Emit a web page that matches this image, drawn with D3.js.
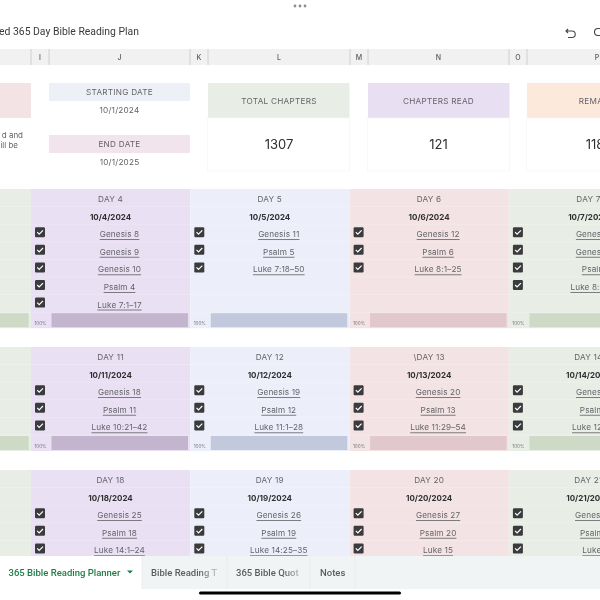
<!DOCTYPE html>
<html>
<head>
<meta charset="utf-8">
<script src="https://cdn.jsdelivr.net/npm/d3@7"></script>
<style>
html, body { margin: 0; padding: 0; background: #fff; }
svg { display: block; filter: blur(0.3px); }
text { font-family: Inter, "Open Sans", sans-serif; }
</style>
</head>
<body>
<svg id="sheet" width="600" height="600"></svg>
<script>
// values
const columnLetters = ["I", "J", "K", "L", "M", "N", "O", "P"];
const dayLabels = [
  ["DAY 4", "DAY 5", "DAY 6", "DAY 7"],
  ["DAY 11", "DAY 12", "\\DAY 13", "DAY 14"],
  ["DAY 18", "DAY 19", "DAY 20", "DAY 21"]
];
const dayDates = [
  ["10/4/2024", "10/5/2024", "10/6/2024", "10/7/2024"],
  ["10/11/2024", "10/12/2024", "10/13/2024", "10/14/2024"],
  ["10/18/2024", "10/19/2024", "10/20/2024", "10/21/2024"]
];
const readings = [
  [
    ["Genesis 8", "Genesis 9", "Genesis 10", "Psalm 4", "Luke 7:1–17"],
    ["Genesis 11", "Psalm 5", "Luke 7:18–50"],
    ["Genesis 12", "Psalm 6", "Luke 8:1–25"],
    ["Genesis 13", "Genesis 14", "Psalm 7", "Luke 8:26–56"]
  ],
  [
    ["Genesis 18", "Psalm 11", "Luke 10:21–42"],
    ["Genesis 19", "Psalm 12", "Luke 11:1–28"],
    ["Genesis 20", "Psalm 13", "Luke 11:29–54"],
    ["Genesis 21", "Psalm 14", "Luke 12:1–34"]
  ],
  [
    ["Genesis 25", "Psalm 18", "Luke 14:1–24"],
    ["Genesis 26", "Psalm 19", "Luke 14:25–35"],
    ["Genesis 27", "Psalm 20", "Luke 15"],
    ["Genesis 28", "Psalm 21", "Luke 16"]
  ]
];
const progress = ["100%", "100%", "100%", "100%"];
const summaryLabels = ["TOTAL CHAPTERS", "CHAPTERS READ", "REMAINING"];
const summaryValues = ["1307", "121", "1186"];
const startLabel = "STARTING DATE", startDate = "10/1/2024";
const endLabel = "END DATE", endDate = "10/1/2025";
const tabNames = ["365 Bible Reading Planner", "Bible Reading T", "365 Bible Quot", "Notes"];

const svg = d3.select("#sheet");
const ink = "#646468", dark = "#2e2e30";

// card colours, the first one is the card cut off on the left
const cardFill = ["#e8eee6", "#e9e0f3", "#ecEEFA", "#f3e3e5", "#e8eee6"];
const barFill = ["#cfdac6", "#c3b5cd", "#c3c9dc", "#e0c8cd", "#cfdac6"];

// columns repeat every 159.3px
const xDay = d3.scaleLinear().domain([0, 1]).range([31, 190.3]);
const yTop = d3.scaleOrdinal().domain([0, 1, 2]).range([189, 347, 470]);
const rowH = 17.6, barH = 15, boxW = 18;

function label(g, x, y, str, size, fill, weight, anchor) {
  return g.append("text").attr("x", x).attr("y", y)
    .attr("text-anchor", anchor || "middle")
    .attr("dominant-baseline", "central")
    .attr("font-size", size).attr("fill", fill)
    .attr("font-weight", weight || 400).text(str);
}

// title bar
label(svg, -1, 31.5, "ed 365 Day Bible Reading Plan", 10.4, "#3a3a3c", 400, "start").style("font-family", "Roboto");
svg.selectAll(".dot").data([-5, 0, 5]).enter().append("circle")
  .attr("cx", d => 300 + d).attr("cy", 6).attr("r", 1.4).attr("fill", "#8c8c8c");
svg.append("path").attr("d", "M568 29 l-2 2 l2 2 M566 31 h6 a3.2 3.2 0 0 1 0 6.5 h-4")
  .attr("fill", "none").attr("stroke", "#444").attr("stroke-width", 1.1);
svg.append("path").attr("d", "M600 28.5 h-2 a3.5 3.5 0 0 0 0 7 h2")
  .attr("fill", "none").attr("stroke", "#444").attr("stroke-width", 1.1);

// column header row
const colEdges = [0, 31, 49, 190, 208, 350, 368, 509, 527, 700];
svg.append("rect").attr("x", 0).attr("y", 49).attr("width", 600).attr("height", 16).attr("fill", "#f1f1f1");
svg.selectAll(".edge").data(colEdges.slice(1, -1)).enter().append("line")
  .attr("x1", d => d).attr("x2", d => d).attr("y1", 49).attr("y2", 65)
  .attr("stroke", "#c9c9c9").attr("stroke-width", 0.8);
columnLetters.forEach((c, i) => {
  const mid = i == 7 ? 597 : (colEdges[i + 1] + colEdges[i + 2]) / 2;
  label(svg, mid, 57, c, 7, "#5a5a5a", 500);
});

// summary area
svg.append("rect").attr("x", 0).attr("y", 83).attr("width", 31).attr("height", 35).attr("fill", "#f3e3e5");
label(svg, 23, 135, "d and", 8, ink, 400, "end");
label(svg, 18, 144.5, "ill be", 8, ink, 400, "end");

const dateBoxes = [[83, "#edf1f7", startLabel, startDate], [135, "#f2e4ec", endLabel, endDate]];
dateBoxes.forEach(d => {
  svg.append("rect").attr("x", 49).attr("y", d[0]).attr("width", 141).attr("height", 18).attr("fill", d[1]);
  label(svg, 119.5, d[0] + 9, d[2], 8.2, ink).attr("letter-spacing", 0.25);
  label(svg, 119.5, d[0] + 27, d[3], 8.2, ink).attr("letter-spacing", 0.2);
});

const summaryX = [208, 368, 527], summaryFill = ["#e8eee6", "#e8dff3", "#fde8dc"];
const summaryMid = [279, 438.5, 599];
summaryLabels.forEach((s, i) => {
  svg.append("rect").attr("x", summaryX[i]).attr("y", 83).attr("width", i == 2 ? 80 : 141.5).attr("height", 35).attr("fill", summaryFill[i]);
  label(svg, i == 2 ? 603 : summaryMid[i], 100.5, s, 8.2, ink).attr("letter-spacing", 0.25);
  label(svg, summaryMid[i], 144, summaryValues[i], 13, dark);
  svg.append("rect").attr("x", summaryX[i] - 0.5).attr("y", 118).attr("width", 142).attr("height", 53)
    .attr("fill", "none").attr("stroke", "#f6f6f6").attr("stroke-width", 0.7);
});

// day cards
dayLabels.forEach((block, b) => {
  const top = yTop(b);
  const rows = b == 0 ? 7 : 5;
  const yRow = d3.scaleLinear().domain([0, 1]).range([top + 10, top + 10 + rowH]);
  const barY = top + rows * rowH + 1;

  d3.range(-1, 4).forEach(i => {
    const x0 = xDay(i), g = svg.append("g");
    g.append("rect").attr("x", x0).attr("y", top).attr("width", xDay(i + 1) - x0).attr("height", barY + barH - top)
      .attr("fill", cardFill[i + 1]);
    d3.range(1, rows + 1).forEach(r => {
      g.append("line").attr("x1", x0).attr("x2", x0 + 159).attr("y1", top + r * rowH).attr("y2", top + r * rowH)
        .attr("stroke", "#fff").attr("stroke-opacity", 0.3).attr("stroke-width", 0.7);
    });
    // last block runs under the tab strip, so no progress row there
    if (b < 2) {
      g.append("rect").attr("x", x0 + 20.5).attr("y", barY).attr("width", 136.5).attr("height", barH - 1)
        .attr("fill", barFill[i + 1]);
    }
    if (i < 0) return;

    label(g, x0 + 79.5, yRow(0), block[i], 8.2, ink).attr("letter-spacing", 0.2);
    label(g, x0 + 79.5, yRow(1), dayDates[b][i], 8, dark, 700);
    readings[b][i].forEach((r, k) => {
      const y = yRow(k + 2);
      g.append("rect").attr("x", x0 + 4).attr("y", y - 7).attr("width", 10).attr("height", 10).attr("rx", 1.2).attr("fill", "#3b3b3d");
      g.append("path").attr("d", `M${x0 + 6.2} ${y - 2} l2 2 l3.8 -3.8`)
        .attr("fill", "none").attr("stroke", "#fff").attr("stroke-width", 1.2);
      label(g, x0 + 88.5, y, r, 8.2, ink).attr("text-decoration", "underline").attr("letter-spacing", 0.12);
    });
    if (b < 2) label(g, x0 + boxW / 2 + 0.5, barY + 10.5, progress[i], 4.6, "#77777a");
  });
});

// tab strip and home bar
svg.append("rect").attr("x", 0).attr("y", 556).attr("width", 600).attr("height", 33).attr("fill", "#f1f4f5");
svg.append("rect").attr("x", 0).attr("y", 556).attr("width", 142).attr("height", 33).attr("fill", "#fff");
svg.append("rect").attr("x", 0).attr("y", 589).attr("width", 600).attr("height", 11).attr("fill", "#fff");
svg.selectAll(".sep").data([142, 227, 310, 355]).enter().append("line")
  .attr("x1", d => d).attr("x2", d => d).attr("y1", 556).attr("y2", 589)
  .attr("stroke", "#e8ebec").attr("stroke-width", 0.8);
const tabX = [8.5, 151, 236, 320];
tabNames.forEach((t, i) => {
  label(svg, tabX[i], 572, t, 9.5, i == 0 ? "#1e7e46" : "#5c5c5e", 500, "start").style("font-family", "Roboto");
});
// long tab names fade out towards the tab edge
const fade = svg.append("defs").append("linearGradient").attr("id", "tabFade");
fade.append("stop").attr("offset", 0).attr("stop-color", "#f1f4f5").attr("stop-opacity", 0);
fade.append("stop").attr("offset", 1).attr("stop-color", "#f1f4f5");
[[198, 27], [283, 25]].forEach(d => {
  svg.append("rect").attr("x", d[0]).attr("y", 564).attr("width", d[1]).attr("height", 16).attr("fill", "url(#tabFade)");
});
svg.append("path").attr("d", "M127 570.5 h6 l-3 3 z").attr("fill", "#1e7e46");
svg.append("rect").attr("x", 199).attr("y", 591.5).attr("width", 202).attr("height", 3).attr("rx", 1.5).attr("fill", "#000");
</script>
</body>
</html>
